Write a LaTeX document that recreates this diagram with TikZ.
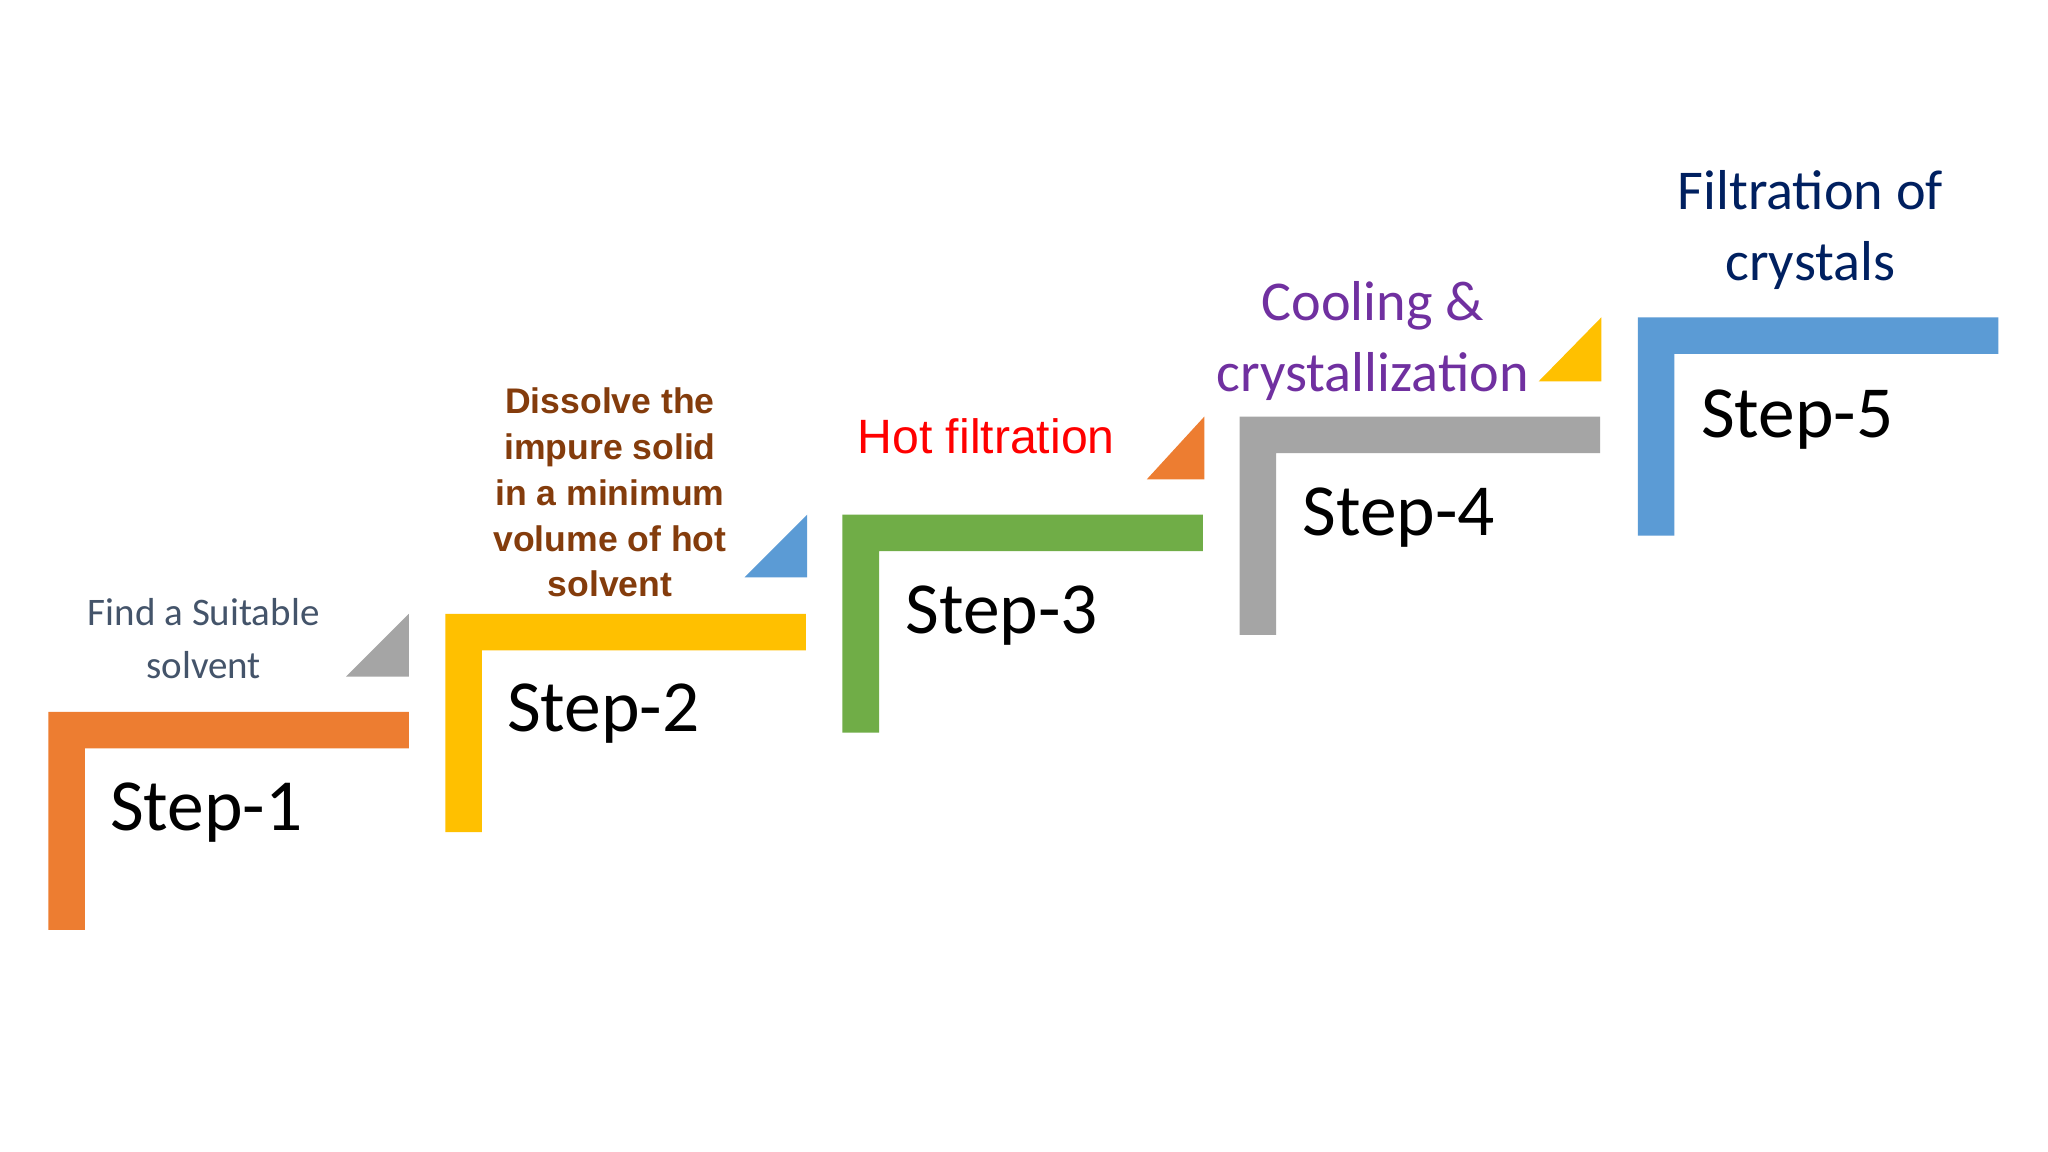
\documentclass[tikz,border=0pt]{standalone}
\usepackage{fontspec}
\setmainfont{Carlito}
\newfontfamily\arialf{Liberation Sans}
\definecolor{corange}{HTML}{ED7D31}
\definecolor{cyellow}{HTML}{FFC000}
\definecolor{cgreen}{HTML}{70AD47}
\definecolor{cgray}{HTML}{A5A5A5}
\definecolor{cblue}{HTML}{5B9BD5}
\definecolor{cslate}{HTML}{44546A}
\definecolor{cbrown}{HTML}{843C0C}
\definecolor{cpurple}{HTML}{7030A0}
\definecolor{cnavy}{HTML}{002060}
\tikzset{steplabel/.style={font=\fontsize{32}{38}\selectfont, text=black},
lbl/.style={align=center, inner sep=0pt}}
\begin{document}
\begin{tikzpicture}[x=0.02cm,y=-0.02cm]
\useasboundingbox (0,0) rectangle (1568,882);
\fill[white] (0,0) rectangle (1568,882);
% L shapes
\def\stair#1#2#3#4{\fill[#1] (#2,#3) -- (#2+276,#3) -- (#2+276,#3+28) -- (#2+28,#3+28) -- (#2+28,#3+167) -- (#2,#3+167) -- cycle;}
\stair{corange}{37}{545}{}
\stair{cyellow}{341}{470}{}
\stair{cgreen}{645}{394}{}
\stair{cgray}{949}{319}{}
\stair{cblue}{1254}{243}{}
% triangles
\fill[cgray] (313,470) -- (313,518) -- (265,518) -- cycle;
\fill[cblue] (618,394) -- (618,442) -- (570,442) -- cycle;
\fill[corange] (922,319) -- (922,367) -- (878,367) -- cycle;
\fill[cyellow] (1226,243) -- (1226,292) -- (1178,292) -- cycle;
% step labels
\node[steplabel] (s1) at (158,622) {Step-1};
\node[steplabel] (s2) at (462,546) {Step-2};
\node[steplabel] (s3) at (767,471) {Step-3};
\node[steplabel] (s4) at (1071,396) {Step-4};
\node[steplabel] (s5) at (1376,321) {Step-5};
% descriptions
\node[lbl, text=cslate, font=\fontsize{17}{22.8}\selectfont] (t1) at (156,489) {Find a Suitable\\solvent};
\node[lbl, text=cbrown, font=\arialf\bfseries\fontsize{15.5}{20}\selectfont] (t2) at (467,377) {Dissolve the\\impure solid\\in a minimum\\volume of hot\\solvent};
\node[lbl, text=red, font=\arialf\fontsize{21}{25}\selectfont] (t3) at (755,334) {Hot filtration};
\node[lbl, text=cpurple, font=\fontsize{24.5}{30.7}\selectfont] (t4) at (1051,261) {Cooling \&\\crystallization};
\node[lbl, text=cnavy, font=\fontsize{24.5}{30.7}\selectfont] (t5) at (1386,176) {Filtration of\\crystals};
\end{tikzpicture}
\end{document}
